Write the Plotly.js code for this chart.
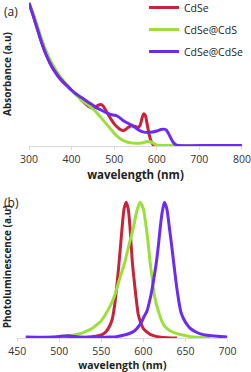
<!DOCTYPE html>
<html>
<head>
<meta charset="utf-8">
<script src="https://cdn.plot.ly/plotly-3.0.1.min.js"></script>
<style>html,body{margin:0;padding:0;background:#fff;}#chart{width:251px;height:372px;}</style>
</head>
<body>
<div id="chart"></div>
<script>
// ---- Data: (a) absorbance ----
var seriesNames = ["CdSe", "CdSe@CdS", "CdSe@CdSe"];
var absRedX = [300,305,310,320,330,340,350,360,370,380,390,400,410,415,420,425,432,440,448,455,462,468,474,480,490,500,510,518,525,532,540,548,556,561,565,569,573,577,581,586,591,597,650,800];
var absRedY = [1.0,0.955,0.91,0.815,0.72,0.64,0.575,0.523,0.48,0.447,0.418,0.39,0.362,0.348,0.332,0.316,0.296,0.277,0.266,0.27,0.284,0.29,0.28,0.25,0.2,0.155,0.125,0.11,0.112,0.128,0.142,0.138,0.13,0.145,0.19,0.225,0.215,0.16,0.095,0.04,0.01,0.0,0.0,0.0];
var absGreenX = [300,305,310,320,330,340,350,360,370,380,390,400,410,420,430,440,450,460,470,480,490,500,510,520,530,540,550,560,570,577,585,592,598,605,640,650,800];
var absGreenY = [1.0,0.965,0.925,0.835,0.745,0.665,0.6,0.545,0.5,0.46,0.425,0.39,0.36,0.33,0.305,0.285,0.26,0.23,0.195,0.16,0.125,0.09,0.06,0.04,0.028,0.022,0.02,0.02,0.025,0.032,0.03,0.02,0.008,0.004,0.003,0.002,0.002];
var absPurpleX = [300,305,310,320,330,340,350,360,370,380,390,400,410,420,430,440,450,460,470,480,490,500,505,512,520,530,540,550,560,570,580,590,600,610,617,623,628,633,638,644,650,700,800];
var absPurpleY = [1.0,0.955,0.91,0.815,0.72,0.64,0.575,0.525,0.483,0.45,0.42,0.39,0.365,0.345,0.325,0.305,0.285,0.265,0.25,0.235,0.222,0.215,0.213,0.2,0.18,0.163,0.148,0.128,0.108,0.097,0.095,0.098,0.105,0.115,0.118,0.11,0.085,0.055,0.028,0.01,0.003,0.003,0.003];

// ---- Data: (b) photoluminescence ----
var plRedX = [490,520,533,545,551,556,560,563,566,569,572,574.5,577,579.5,582,584,587,590,592,594,597,600,604,608,615,623,640];
var plRedY = [0.0,0.003,0.005,0.015,0.025,0.05,0.09,0.14,0.25,0.42,0.62,0.8,0.95,1.0,0.95,0.82,0.55,0.37,0.26,0.17,0.11,0.07,0.045,0.027,0.012,0.004,0.0];
var plGreenX = [480,493,505,513,520,527,533,539,544,549,553,557,562,566,572,578,583,588,592,596,600,603.5,606,608,610.5,613,618,624,630,634,641,648,656,664,680];
var plGreenY = [0.003,0.008,0.013,0.018,0.026,0.036,0.052,0.07,0.095,0.12,0.155,0.195,0.255,0.317,0.44,0.56,0.69,0.81,0.93,1.0,0.95,0.81,0.68,0.56,0.44,0.317,0.194,0.098,0.06,0.046,0.03,0.02,0.01,0.005,0.002];
var plPurpleX = [460,480,495,505,510,515,525,545,560,568,576,584,590,594,598,601,604,609,612,615.5,618,620,622.5,625,628,631,633.5,636,638.5,641,644.5,648,652,656,662,668,676,688,700];
var plPurpleY = [0.008,0.006,0.008,0.014,0.017,0.013,0.007,0.005,0.007,0.01,0.02,0.035,0.055,0.083,0.12,0.16,0.194,0.317,0.42,0.56,0.69,0.81,0.93,1.0,0.95,0.81,0.69,0.56,0.43,0.317,0.194,0.14,0.098,0.07,0.046,0.03,0.02,0.012,0.008];

var absTicks = [300,400,500,600,700,800];
var plTicks = [450,500,550,600,650,700];

var colors = ["#C8233A", "#9BE03A", "#6B2BF2"];
var FONT = "Open Sans, DejaVu Sans, sans-serif";

function tr(x, y, i, xa, ya, legend) {
  return {
    x: x, y: y, type: "scatter", mode: "lines",
    name: seriesNames[i], legendgroup: "g" + i,
    line: {color: colors[i], width: 3, shape: "spline", smoothing: 0.6},
    xaxis: xa, yaxis: ya, showlegend: legend, hoverinfo: "skip"
  };
}

var data = [
  tr(absRedX, absRedY, 0, "x", "y", true),
  tr(absGreenX, absGreenY, 1, "x", "y", true),
  tr(absPurpleX, absPurpleY, 2, "x", "y", true),
  tr(plRedX, plRedY, 0, "x2", "y2", false),
  tr(plGreenX, plGreenY, 1, "x2", "y2", false),
  tr(plPurpleX, plPurpleY, 2, "x2", "y2", false)
];

function xax(domain, range, ticks, anchor, standoff, tsize) {
  return {
    domain: domain, range: range, anchor: anchor,
    tickvals: ticks, ticktext: ticks.map(String),
    showline: true, linecolor: "#d9d9d9", linewidth: 1,
    ticks: "outside", ticklen: 3, tickcolor: "#d9d9d9",
    showgrid: false, zeroline: false, ticklabeloverflow: "allow",
    tickfont: {family: FONT, size: 10.5, color: "#333"},
    title: {text: "<b>wavelength (nm)</b>", font: {family: FONT, size: tsize, color: "#222"}, standoff: standoff},
    automargin: false, fixedrange: true
  };
}
function yax(domain, range, title, anchor, standoff) {
  return {
    domain: domain, range: range, anchor: anchor,
    showticklabels: false, showgrid: false, zeroline: false, showline: false, ticks: "",
    title: {text: "<b>" + title + "</b>", font: {family: FONT, size: 10, color: "#222"}, standoff: standoff},
    automargin: false, fixedrange: true
  };
}

var layout = {
  width: 251, height: 372,
  margin: {l: 0, r: 0, t: 0, b: 0, autoexpand: false},
  paper_bgcolor: "#fff", plot_bgcolor: "#fff",
  font: {family: FONT, color: "#222"},
  xaxis: xax([0.1155, 0.964], [299.9, 800.1], absTicks, "y", 6, 11.5),
  yaxis: yax([0.6075, 0.9946], [0, 1.007], "Absorbance (a.u)", "x", 14),
  xaxis2: xax([0.069, 0.906], [450, 700], plTicks, "y2", 6, 10.5),
  yaxis2: yax([0.0914, 0.4745], [0, 1.05], "Photoluminescence (a.u)", "x2", 3),
  showlegend: true,
  legend: {
    x: 144 / 251, y: 1 + 7 / 372, xanchor: "left", yanchor: "top",
    font: {family: FONT, size: 10.5, color: "#222"},
    bgcolor: "rgba(0,0,0,0)", traceorder: "grouped", tracegroupgap: 3,
    itemwidth: 30
  },
  annotations: [
    {text: "(a)", x: 0.008, y: 1 - 12 / 372, xref: "paper", yref: "paper", xanchor: "left", yanchor: "middle", showarrow: false, font: {family: FONT, size: 12, color: "#222"}},
    {text: "(b)", x: 0.008, y: 1 - 202 / 372, xref: "paper", yref: "paper", xanchor: "left", yanchor: "middle", showarrow: false, font: {family: FONT, size: 12, color: "#222"}}
  ]
};

Plotly.newPlot("chart", data, layout, {displayModeBar: false, staticPlot: true});
</script>
</body>
</html>
